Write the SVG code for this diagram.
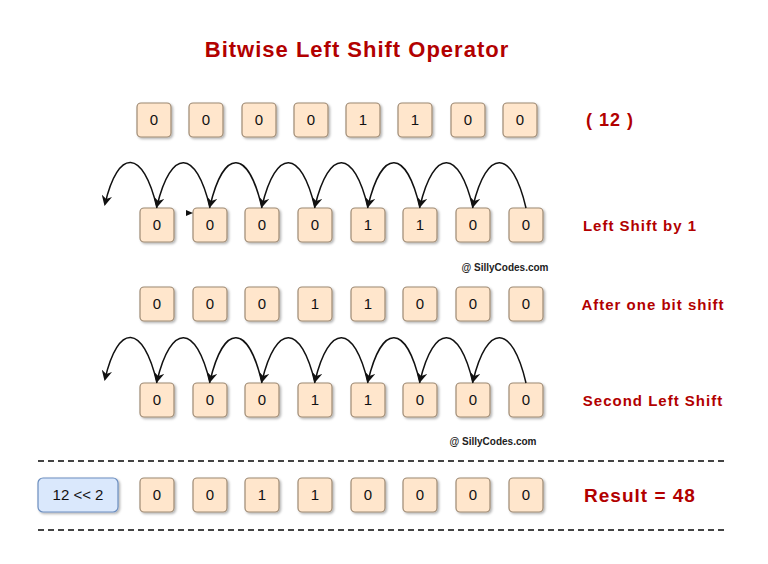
<svg xmlns="http://www.w3.org/2000/svg" width="768" height="564" viewBox="0 0 768 564">
<style>
.b{fill:#ffe6cc;stroke:#9e8a73;stroke-width:1.2}
.t{font-family:"Liberation Sans",sans-serif;font-size:15px;text-anchor:middle;fill:#111}
.r{font-family:"Liberation Sans",sans-serif;font-weight:bold;fill:#b20000;text-anchor:middle;letter-spacing:1px}
.w{font-family:"Liberation Sans",sans-serif;font-weight:bold;font-size:10px;fill:#222;text-anchor:middle}
.a{fill:none;stroke:#111;stroke-width:1.5;marker-end:url(#m)}
.d{stroke:#444;stroke-width:2;stroke-dasharray:6 4}
</style>
<defs>
<marker id="m" viewBox="0 0 10 10" refX="8" refY="5" markerWidth="7" markerHeight="7" orient="auto"><path d="M0,0L10,5L0,10L3,5z" fill="#111"/></marker>
<filter id="s" x="-20%" y="-20%" width="150%" height="150%"><feDropShadow dx="1.5" dy="1.5" stdDeviation="1.2" flood-opacity="0.3"/></filter>
<g id="bx"><rect class="b" x="-17" y="-17" width="34" height="34" rx="4" filter="url(#s)"/></g>
</defs>
<rect width="768" height="564" fill="#fff"/>
<text class="r" x="357" y="57" font-size="22">Bitwise Left Shift Operator</text>
<g id="row1">
<use href="#bx" x="154" y="120"/><use href="#bx" x="206" y="120"/><use href="#bx" x="259" y="120"/><use href="#bx" x="311" y="120"/><use href="#bx" x="363" y="120"/><use href="#bx" x="415" y="120"/><use href="#bx" x="468" y="120"/><use href="#bx" x="520" y="120"/>
<text class="t" y="125"><tspan x="154">0</tspan><tspan x="206">0</tspan><tspan x="259">0</tspan><tspan x="311">0</tspan><tspan x="363">1</tspan><tspan x="415">1</tspan><tspan x="468">0</tspan><tspan x="520">0</tspan></text>
</g>
<g id="row2">
<use href="#bx" x="157" y="225"/><use href="#bx" x="210" y="225"/><use href="#bx" x="262" y="225"/><use href="#bx" x="315" y="225"/><use href="#bx" x="368" y="225"/><use href="#bx" x="420" y="225"/><use href="#bx" x="473" y="225"/><use href="#bx" x="526" y="225"/>
<text class="t" y="230"><tspan x="157">0</tspan><tspan x="210">0</tspan><tspan x="262">0</tspan><tspan x="315">0</tspan><tspan x="368">1</tspan><tspan x="420">1</tspan><tspan x="473">0</tspan><tspan x="526">0</tspan></text>
</g>
<g id="row3">
<use href="#bx" x="157" y="304"/><use href="#bx" x="210" y="304"/><use href="#bx" x="262" y="304"/><use href="#bx" x="315" y="304"/><use href="#bx" x="368" y="304"/><use href="#bx" x="420" y="304"/><use href="#bx" x="473" y="304"/><use href="#bx" x="526" y="304"/>
<text class="t" y="309"><tspan x="157">0</tspan><tspan x="210">0</tspan><tspan x="262">0</tspan><tspan x="315">1</tspan><tspan x="368">1</tspan><tspan x="420">0</tspan><tspan x="473">0</tspan><tspan x="526">0</tspan></text>
</g>
<g id="row4">
<use href="#bx" x="157" y="400"/><use href="#bx" x="210" y="400"/><use href="#bx" x="262" y="400"/><use href="#bx" x="315" y="400"/><use href="#bx" x="368" y="400"/><use href="#bx" x="420" y="400"/><use href="#bx" x="473" y="400"/><use href="#bx" x="526" y="400"/>
<text class="t" y="405"><tspan x="157">0</tspan><tspan x="210">0</tspan><tspan x="262">0</tspan><tspan x="315">1</tspan><tspan x="368">1</tspan><tspan x="420">0</tspan><tspan x="473">0</tspan><tspan x="526">0</tspan></text>
</g>
<g id="row5">
<use href="#bx" x="157" y="495"/><use href="#bx" x="210" y="495"/><use href="#bx" x="262" y="495"/><use href="#bx" x="315" y="495"/><use href="#bx" x="368" y="495"/><use href="#bx" x="420" y="495"/><use href="#bx" x="473" y="495"/><use href="#bx" x="526" y="495"/>
<text class="t" y="500"><tspan x="157">0</tspan><tspan x="210">0</tspan><tspan x="262">1</tspan><tspan x="315">1</tspan><tspan x="368">0</tspan><tspan x="420">0</tspan><tspan x="473">0</tspan><tspan x="526">0</tspan></text>
</g>
<g id="expr">
<rect x="38" y="478" width="80" height="34" rx="5" fill="#dae8fc" stroke="#6c8ebf" stroke-width="1.2" filter="url(#s)"/>
<text class="t" x="78" y="500">12 &lt;&lt; 2</text>
</g>
<g id="connectors">
<path class="a" d="M526,208 C512,148 487,148 473,206"/>
<path class="a" d="M473,208 C459,148 434,148 420,206"/>
<path class="a" d="M420,208 C406,148 382,148 368,206"/>
<path class="a" d="M368,208 C354,148 329,148 315,206"/>
<path class="a" d="M315,208 C301,148 276,148 262,206"/>
<path class="a" d="M262,208 C248,148 224,148 210,206"/>
<path class="a" d="M210,208 C196,148 171,148 157,206"/>
<path class="a" d="M157,208 C143,148 118,148 105,204"/>
<path d="M186,210 L193,213 L186,216 z" fill="#111"/>
<path class="a" d="M526,383 C512,323 487,323 473,381"/>
<path class="a" d="M473,383 C459,323 434,323 420,381"/>
<path class="a" d="M420,383 C406,323 382,323 368,381"/>
<path class="a" d="M368,383 C354,323 329,323 315,381"/>
<path class="a" d="M315,383 C301,323 276,323 262,381"/>
<path class="a" d="M262,383 C248,323 224,323 210,381"/>
<path class="a" d="M210,383 C196,323 171,323 157,381"/>
<path class="a" d="M157,383 C143,323 118,323 105,379"/>
<line class="d" x1="38" y1="461" x2="728" y2="461"/>
<line class="d" x1="38" y1="530" x2="728" y2="530"/>
</g>
<text class="r" x="610" y="126" font-size="18">( 12 )</text>
<text class="r" x="640" y="231" font-size="15">Left Shift by 1</text>
<text class="w" x="505" y="271">@ SillyCodes.com</text>
<text class="r" x="653" y="310" font-size="15">After one bit shift</text>
<text class="r" x="653" y="406" font-size="15">Second Left Shift</text>
<text class="w" x="493" y="445">@ SillyCodes.com</text>
<text class="r" x="640" y="502" font-size="19">Result = 48</text>
</svg>
